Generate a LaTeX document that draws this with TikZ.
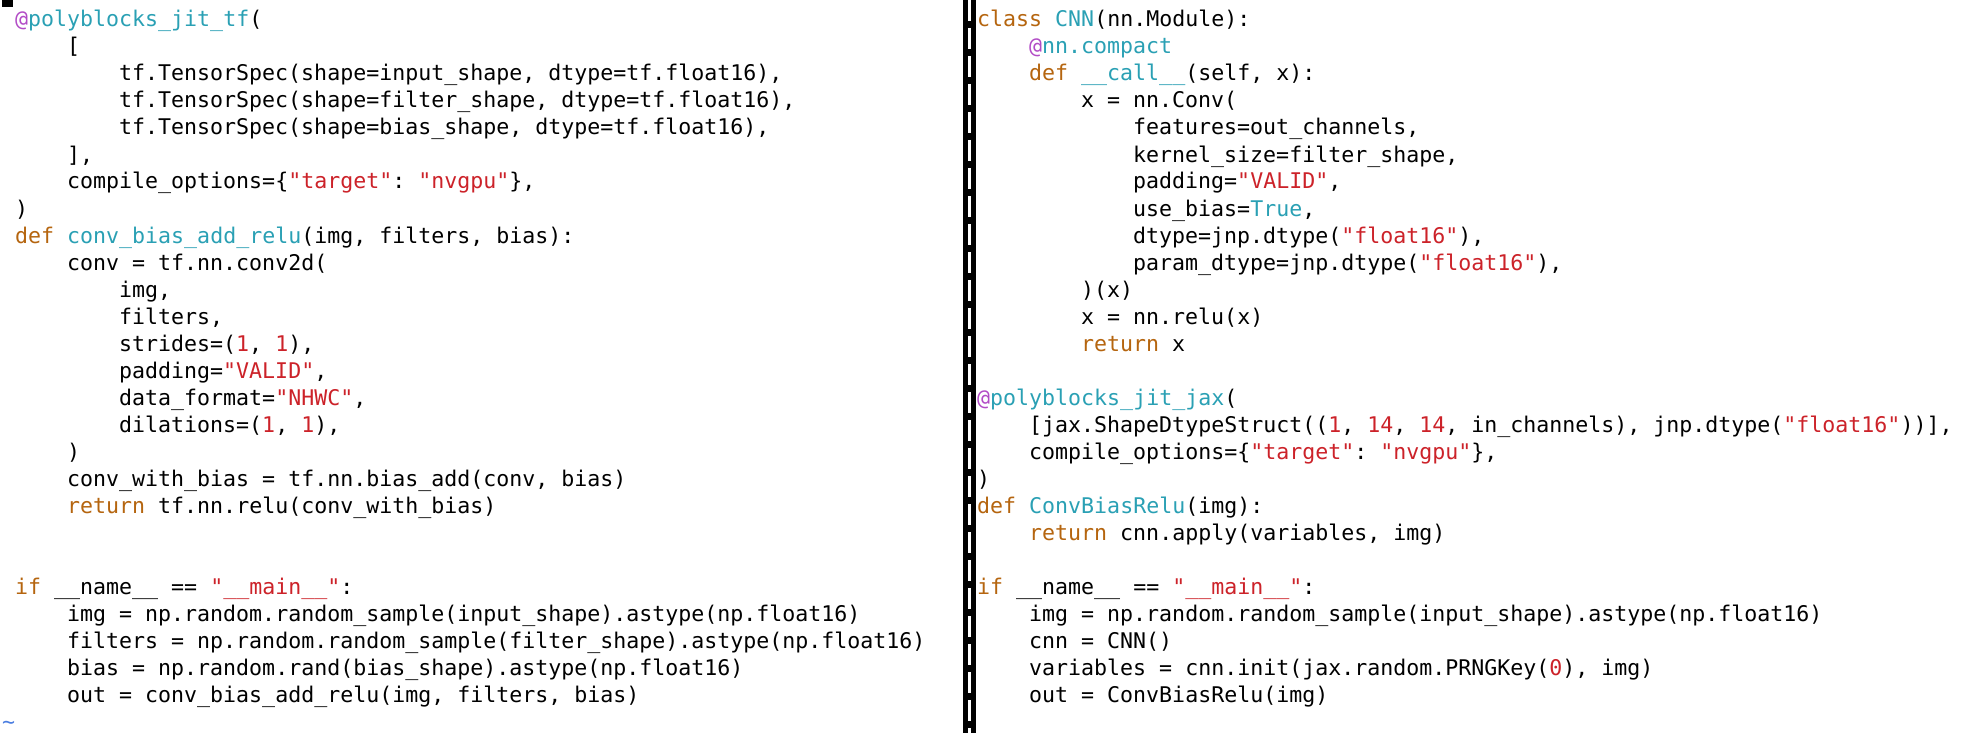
\documentclass[tikz,border=0pt]{standalone}
\usepackage{fontspec}
\setmonofont{DejaVu Sans Mono}
\definecolor{KwOrange}{HTML}{B5650F}
\definecolor{FnTeal}{HTML}{2AA0B4}
\definecolor{StrRed}{HTML}{CC2229}
\definecolor{DecPurple}{HTML}{B24CC6}
\definecolor{TildeBlue}{HTML}{4A7DE0}
\newcommand{\kw}[1]{\textcolor{KwOrange}{#1}}
\newcommand{\fn}[1]{\textcolor{FnTeal}{#1}}
\newcommand{\st}[1]{\textcolor{StrRed}{#1}}
\newcommand{\dc}[1]{\textcolor{DecPurple}{#1}}

\begin{document}
\begin{tikzpicture}[x = 1pt, y = 1pt]%
    %
    \tikzstyle{codeline} = [anchor = base west, inner sep = 0pt, font = \ttfamily\fontsize{21.6}{27}\selectfont, text = black]%
    \tikzstyle{divider} = [draw = white, line width = 2.5pt, dash pattern = on 21pt off 7pt]%
    %
    \useasboundingbox (0, 0) rectangle (1965, -733);%
    \fill [black] (2, 0) rectangle (13, -7);%
    \fill [black] (963, 0) rectangle (976, -733);%
    \draw [divider] (969.5, 0) -- (969.5, -733);%
    %
    % left pane
    \node [codeline] (l1) at (15, -27) {\dc{@}\fn{polyblocks\_jit\_tf}(};%
    \node [codeline] (l2) at (67, -54) {[};%
    \node [codeline] (l3) at (119, -81) {tf.TensorSpec(shape=input\_shape, dtype=tf.float16),};%
    \node [codeline] (l4) at (119, -108) {tf.TensorSpec(shape=filter\_shape, dtype=tf.float16),};%
    \node [codeline] (l5) at (119, -135) {tf.TensorSpec(shape=bias\_shape, dtype=tf.float16),};%
    \node [codeline] (l6) at (67, -162) {],};%
    \node [codeline] (l7) at (67, -189) {compile\_options=\{\st{"target"}: \st{"nvgpu"}\},};%
    \node [codeline] (l8) at (15, -216) {)};%
    \node [codeline] (l9) at (15, -243) {\kw{def} \fn{conv\_bias\_add\_relu}(img, filters, bias):};%
    \node [codeline] (l10) at (67, -270) {conv = tf.nn.conv2d(};%
    \node [codeline] (l11) at (119, -297) {img,};%
    \node [codeline] (l12) at (119, -324) {filters,};%
    \node [codeline] (l13) at (119, -351) {strides=(\st{1}, \st{1}),};%
    \node [codeline] (l14) at (119, -378) {padding=\st{"VALID"},};%
    \node [codeline] (l15) at (119, -405) {data\_format=\st{"NHWC"},};%
    \node [codeline] (l16) at (119, -432) {dilations=(\st{1}, \st{1}),};%
    \node [codeline] (l17) at (67, -459) {)};%
    \node [codeline] (l18) at (67, -486) {conv\_with\_bias = tf.nn.bias\_add(conv, bias)};%
    \node [codeline] (l19) at (67, -513) {\kw{return} tf.nn.relu(conv\_with\_bias)};%
    \node [codeline] (l22) at (15, -594) {\kw{if} \_\_name\_\_ == \st{"\_\_main\_\_"}:};%
    \node [codeline] (l23) at (67, -621) {img = np.random.random\_sample(input\_shape).astype(np.float16)};%
    \node [codeline] (l24) at (67, -648) {filters = np.random.random\_sample(filter\_shape).astype(np.float16)};%
    \node [codeline] (l25) at (67, -675) {bias = np.random.rand(bias\_shape).astype(np.float16)};%
    \node [codeline] (l26) at (67, -702) {out = conv\_bias\_add\_relu(img, filters, bias)};%
    \node [codeline, text = TildeBlue] (tilde) at (2, -729) {\~{}};%
    %
    % right pane
    \node [codeline] (r1) at (977, -27) {\kw{class} \fn{CNN}(nn.Module):};%
    \node [codeline] (r2) at (1029, -54) {\dc{@}\fn{nn.compact}};%
    \node [codeline] (r3) at (1029, -81) {\kw{def} \fn{\_\_call\_\_}(self, x):};%
    \node [codeline] (r4) at (1081, -108) {x = nn.Conv(};%
    \node [codeline] (r5) at (1133, -135) {features=out\_channels,};%
    \node [codeline] (r6) at (1133, -162) {kernel\_size=filter\_shape,};%
    \node [codeline] (r7) at (1133, -189) {padding=\st{"VALID"},};%
    \node [codeline] (r8) at (1133, -216) {use\_bias=\fn{True},};%
    \node [codeline] (r9) at (1133, -243) {dtype=jnp.dtype(\st{"float16"}),};%
    \node [codeline] (r10) at (1133, -270) {param\_dtype=jnp.dtype(\st{"float16"}),};%
    \node [codeline] (r11) at (1081, -297) {)(x)};%
    \node [codeline] (r12) at (1081, -324) {x = nn.relu(x)};%
    \node [codeline] (r13) at (1081, -351) {\kw{return} x};%
    \node [codeline] (r15) at (977, -405) {\dc{@}\fn{polyblocks\_jit\_jax}(};%
    \node [codeline] (r16) at (1029, -432) {[jax.ShapeDtypeStruct((\st{1}, \st{14}, \st{14}, in\_channels), jnp.dtype(\st{"float16"}))],};%
    \node [codeline] (r17) at (1029, -459) {compile\_options=\{\st{"target"}: \st{"nvgpu"}\},};%
    \node [codeline] (r18) at (977, -486) {)};%
    \node [codeline] (r19) at (977, -513) {\kw{def} \fn{ConvBiasRelu}(img):};%
    \node [codeline] (r20) at (1029, -540) {\kw{return} cnn.apply(variables, img)};%
    \node [codeline] (r22) at (977, -594) {\kw{if} \_\_name\_\_ == \st{"\_\_main\_\_"}:};%
    \node [codeline] (r23) at (1029, -621) {img = np.random.random\_sample(input\_shape).astype(np.float16)};%
    \node [codeline] (r24) at (1029, -648) {cnn = CNN()};%
    \node [codeline] (r25) at (1029, -675) {variables = cnn.init(jax.random.PRNGKey(\st{0}), img)};%
    \node [codeline] (r26) at (1029, -702) {out = ConvBiasRelu(img)};%
    %
\end{tikzpicture}
\end{document}
